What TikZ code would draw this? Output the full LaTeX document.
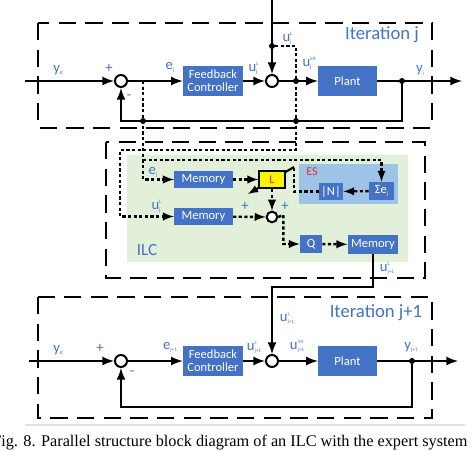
\documentclass[tikz,border=0pt]{standalone}
\usepackage{fontspec}
\setmainfont{Carlito}
\newfontfamily\captionfont{Liberation Serif}
\usetikzlibrary{arrows}
\definecolor{blockblue}{HTML}{4472C4}
\definecolor{ilcgreen}{HTML}{E2EFD9}
\definecolor{esblue}{HTML}{9DC3E6}
\definecolor{labred}{HTML}{E8302F}
\newcommand{\sig}[3]{#1\makebox[0pt][l]{\raisebox{4.5pt}{\fontsize{4}{4}\selectfont #3}}\raisebox{-1.5pt}{\fontsize{4}{4}\selectfont #2}}

\begin{document}
\begin{tikzpicture}[x=0.75pt,y=-0.75pt,
  blk/.style={fill=blockblue,text=white,inner sep=0pt,font=\fontsize{9.4}{10}\selectfont,align=center},
  sum/.style={circle,draw=black,fill=white,line width=1.5pt,inner sep=0pt,minimum size=9pt},
  wire/.style={line width=2pt},
  dots/.style={line width=1.8pt,dash pattern=on 2.4pt off 1.8pt},
  frame/.style={line width=1.9pt,dash pattern=on 13pt off 7pt},
  lab/.style={text=blockblue,font=\fontsize{11}{12}\selectfont,inner sep=0pt},
  dot/.style={circle,fill=black,inner sep=0pt,minimum size=4.5pt}]
  \useasboundingbox (0,0) rectangle (474,450);
  % backgrounds
  \fill[ilcgreen] (127,155) rectangle (408,262);
  \fill[esblue] (299,164) rectangle (398,204);
  \draw[frame] (38,23) rectangle (432,128);
  \draw[frame] (106,142) rectangle (425,278);
  \draw[frame] (38,297) rectangle (432,418);
  % iteration j
  \node[lab,font=\fontsize{14}{15}\selectfont] (iterj) at (382,35) {Iteration j};
  \coordinate (inj) at (25,81);
  \coordinate (topj) at (272,0);
  \coordinate (outj) at (462,81);
  \node[sum] (sumej) at (121,81) {};
  \node[blk,minimum width=45pt,minimum height=22.5pt] (ctrlj) at (213,81) {Feedback\\Controller};
  \node[sum] (sumuj) at (272,81) {};
  \node[blk,minimum width=44pt,minimum height=22pt] (plantj) at (347.5,81) {Plant};
  \node[dot] (yj) at (402,81) {};
  \node[dot] (ulj) at (272,46) {};
  \draw[wire,-latex] (inj) -- (sumej);
  \draw[wire,-latex] (sumej) -- (ctrlj);
  \draw[wire,-latex] (ctrlj) -- (sumuj);
  \draw[wire,-latex] (sumuj) -- (plantj);
  \draw[wire,-latex] (plantj) -- (outj);
  \draw[wire,-latex] (yj) -- ++(0,40) -| (sumej);
  \draw[wire,-latex] (topj) -- (sumuj);
  \node[lab] (ydj) at (58,70) {\sig{y}{d}{}};
  \node[lab] (plusj) at (109,68) {+};
  \node[lab] (errj) at (170,67) {\sig{e}{j}{}};
  \node[lab] (minusj) at (129,97) {-};
  \node[lab] (ucj) at (253,69) {\sig{u}{j}{c}};
  \node[lab] (ulabj) at (287,38) {\sig{u}{j}{L}};
  \node[lab] (uintj) at (307,63) {\sig{u}{j}{int}};
  \node[lab] (youtj) at (420,70) {\sig{y}{j}{}};
  % ILC
  \node[lab,font=\fontsize{12.75}{13}\selectfont] (ilclab) at (147,250) {ILC};
  \node[text=labred,font=\fontsize{9}{10}\selectfont,inner sep=0pt] (eslab) at (312,172) {ES};
  \coordinate (tuneA) at (248,194);
  \coordinate (tuneL) at (294,167);
  \draw[line width=1.6pt,-latex] (tuneL) -- (tuneA);
  \node[blk,minimum width=44pt,minimum height=13pt] (mem1) at (203.5,179.5) {Memory};
  \node[blk,minimum width=44pt,minimum height=13pt] (mem2) at (203.5,216.5) {Memory};
  \node[fill=yellow,draw=black,line width=1.5pt,minimum width=19pt,minimum height=13pt,inner sep=0pt,text=labred,font=\fontsize{9}{10}\selectfont] (gainL) at (272,179.5) {L};
  \node[sum,minimum size=8pt] (sumL) at (272,217) {};
  \node[blk,minimum width=18pt,minimum height=13pt] (normN) at (331,191.5) {|N|};
  \node[blk,minimum width=19pt,minimum height=13.5pt] (sigE) at (381.5,191) {\sig{Σe}{j}{}};
  \node[blk,minimum width=16.5pt,minimum height=13.5pt] (filtQ) at (311,244) {Q};
  \node[blk,minimum width=38pt,minimum height=14pt] (mem3) at (373,244.5) {Memory};
  \coordinate (ej) at (143,81);
  \coordinate (esplit) at (143,160);
  \coordinate (ulturn) at (120,150);
  \draw[dots,-latex] (ej) |- (mem1);
  \draw[dots,-latex] (esplit) -| (sigE);
  \draw[dots,-latex] (ulj) -- ++(24,0) -- ++(0,104) -- (ulturn) |- (mem2);
  \draw[dots,-latex] (mem1) -- (gainL);
  \draw[dots,-latex] (gainL) -- (sumL);
  \draw[dots,-latex] (mem2) -- (sumL);
  \draw[dots,-latex] (sumL.east) -- ++(5,-2) |- (filtQ);
  \draw[dots,-latex] (filtQ) -- (mem3);
  \draw[dots,-latex] (sigE) -- (normN);
  \draw[dots] (normN) -| (tuneL);
  \node[dot] (crossa) at (143,121) {};
  \node[dot] (crossb) at (296,81) {};
  \node[dot] (crossc) at (296,121) {};
  \node[lab] (eilc) at (153,172) {\sig{e}{j}{}};
  \node[lab] (uilc) at (156,206) {\sig{u}{j}{L}};
  \node[lab] (plusa) at (245,206) {+};
  \node[lab] (plusb) at (285,206) {+};
  \node[lab] (ulnext) at (387,268) {\sig{u}{j+1}{L}};
  % iteration j+1
  \node[lab,font=\fontsize{14}{15}\selectfont] (iterk) at (376,313) {Iteration j+1};
  \coordinate (ink) at (29,361);
  \coordinate (outk) at (458,361);
  \coordinate (ulk) at (373,287);
  \node[sum] (sumek) at (121,361) {};
  \node[blk,minimum width=45pt,minimum height=22.5pt] (ctrlk) at (213,361) {Feedback\\Controller};
  \node[sum] (sumuk) at (272,361) {};
  \node[blk,minimum width=44pt,minimum height=22pt] (plantk) at (347.5,361) {Plant};
  \node[dot] (yk) at (412,361) {};
  \draw[wire,-latex] (ink) -- (sumek);
  \draw[wire,-latex] (sumek) -- (ctrlk);
  \draw[wire,-latex] (ctrlk) -- (sumuk);
  \draw[wire,-latex] (sumuk) -- (plantk);
  \draw[wire,-latex] (plantk) -- (outk);
  \draw[wire,-latex] (yk) -- ++(0,46) -| (sumek);
  \draw[wire,-latex] (mem3) -- (ulk) -| (sumuk);
  \node[lab] (ydk) at (58,350) {\sig{y}{d}{}};
  \node[lab] (plusk) at (100,348) {+};
  \node[lab] (errk) at (170,347) {\sig{e}{j+1}{}};
  \node[lab] (minusk) at (132,373) {-};
  \node[lab] (uck) at (254,348) {\sig{u}{j+1}{c}};
  \node[lab] (ulabk) at (287,318) {\sig{u}{j+1}{L}};
  \node[lab] (uintk) at (297,346) {\sig{u}{j+1}{int}};
  \node[lab] (youtk) at (411,347) {\sig{y}{j+1}{}};
  % caption
  \draw[black!12,line width=0.8pt] (25,425) -- (465,425);
  \node[font=\captionfont\fontsize{12.2}{13}\selectfont,anchor=base west,inner sep=0pt] (caption) at (-8,446) {Fig. 8. Parallel structure block diagram of an ILC with the expert system};
\end{tikzpicture}
\end{document}
